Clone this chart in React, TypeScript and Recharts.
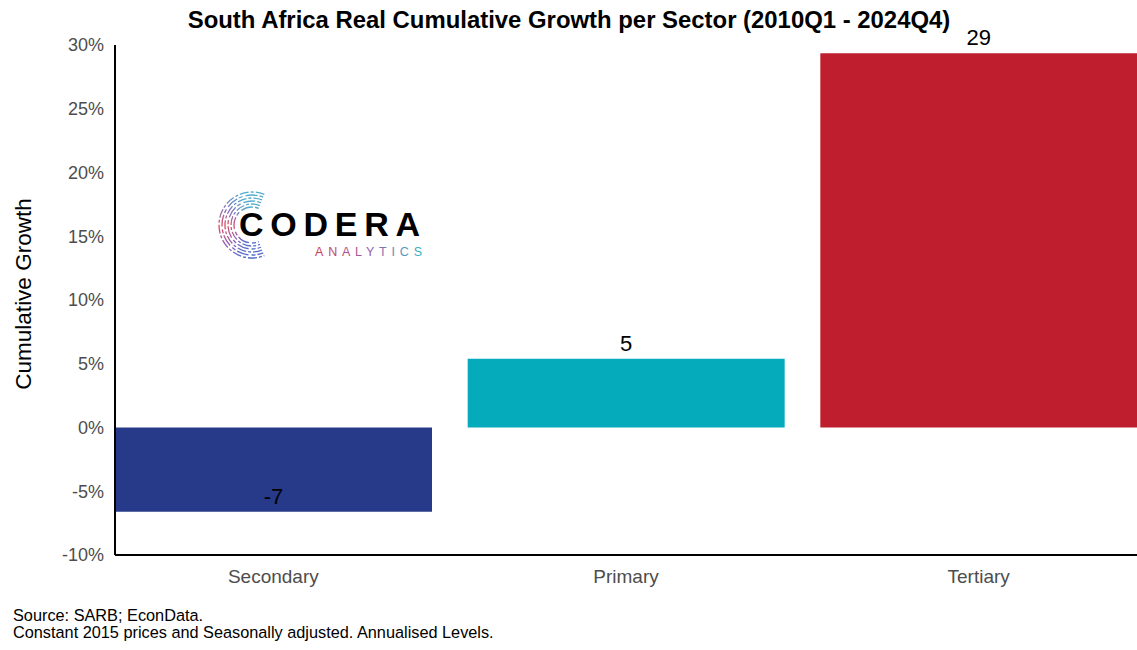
import { BarChart, Bar, XAxis, YAxis, Cell, LabelList } from 'recharts';

const sectors = ['Secondary', 'Primary', 'Tertiary'];
const growth = [-6.6, 5.4, 29.35];
const sectorColors = ['#273a8a', '#06abbb', '#be1e2e'];
const yTicks = [-10, -5, 0, 5, 10, 15, 20, 25, 30];
const footnotes = ['Source: SARB; EconData.', 'Constant 2015 prices and Seasonally adjusted. Annualised Levels.'];

const data = sectors.map((name, i) => ({ name, value: growth[i] }));

const W = 1137;
const H = 650;
const FONT = '"Liberation Sans", Arial, sans-serif';

// value label sits just above the end of the bar (inside the bar for negatives)
function ValueLabel(props: any) {
  const { x, y, width, height, value } = props;
  const end = value >= 0 ? Math.min(y, y + height) : Math.max(y, y + height);
  return (
    <text x={x + width / 2} y={end - 8} textAnchor="middle" fontSize={22} fill="#000" fontFamily={FONT}>
      {Math.round(value)}
    </text>
  );
}

function Logo() {
  const cx = 252;
  const cy = 225;
  const rings = [33, 30, 27, 24, 21, 18];
  const t = (68 * Math.PI) / 180;
  return (
    <g>
      <defs>
        <linearGradient id="ringGrad" x1="0" y1="0" x2="0" y2="1">
          <stop offset="0%" stopColor="#3fa6c8" />
          <stop offset="25%" stopColor="#7a5fb8" />
          <stop offset="50%" stopColor="#d8384e" />
          <stop offset="80%" stopColor="#8a4fa8" />
          <stop offset="100%" stopColor="#3c5cc4" />
        </linearGradient>
        <linearGradient id="wordGrad" x1="0" y1="0" x2="1" y2="0">
          <stop offset="0%" stopColor="#d23c55" />
          <stop offset="50%" stopColor="#9a5ca8" />
          <stop offset="100%" stopColor="#37b3c6" />
        </linearGradient>
      </defs>
      {rings.map((r, i) => (
        <path
          key={r}
          d={`M ${cx + r * Math.cos(-t)} ${cy + r * Math.sin(-t)} A ${r} ${r} 0 1 0 ${cx + r * Math.cos(t)} ${cy + r * Math.sin(t)}`}
          fill="none"
          stroke="url(#ringGrad)"
          strokeWidth={1.3}
          strokeDasharray={i % 2 === 0 ? '9 2 3 2' : '4 2 12 3'}
          opacity={0.9}
        />
      ))}
      <text x={239} y={236} fontFamily={FONT} fontWeight="bold" fontSize={34} fill="#000" textLength={181} lengthAdjust="spacing">
        CODERA
      </text>
      <text x={315} y={255.5} fontFamily={FONT} fontSize={12.5} fill="url(#wordGrad)" textLength={107} lengthAdjust="spacing">
        ANALYTICS
      </text>
    </g>
  );
}

export default function App() {
  return (
    <div style={{ position: 'absolute', left: 0, top: 0, width: W, height: H, background: '#fff' }}>
      <BarChart
        width={W}
        height={H}
        data={data}
        margin={{ top: 45, right: 0, bottom: 65, left: 0 }}
        barCategoryGap={18}
      >
        <XAxis
          dataKey="name"
          height={30}
          padding={{ left: -18, right: -18 }}
          axisLine={{ stroke: '#000', strokeWidth: 2 }}
          tickLine={false}
          tickSize={0}
          tickMargin={15}
          tick={{ fill: '#4d4d4d', fontSize: 19, fontFamily: FONT }}
        />
        <YAxis
          width={115}
          domain={[-10, 30]}
          ticks={yTicks}
          tickFormatter={(v: number) => `${v}%`}
          axisLine={{ stroke: '#000', strokeWidth: 2 }}
          tickLine={false}
          tickSize={0}
          tickMargin={11}
          tick={{ fill: '#4d4d4d', fontSize: 18, fontFamily: FONT }}
        />
        <Bar dataKey="value" isAnimationActive={false}>
          {data.map((d, i) => (
            <Cell key={d.name} fill={sectorColors[i]} />
          ))}
          <LabelList dataKey="value" content={ValueLabel} />
        </Bar>
      </BarChart>
      <svg width={W} height={H} style={{ position: 'absolute', left: 0, top: 0, pointerEvents: 'none' }}>
        <text x={569} y={28} textAnchor="middle" fontFamily={FONT} fontWeight="bold" fontSize={23.9} fill="#000">
          South Africa Real Cumulative Growth per Sector (2010Q1 - 2024Q4)
        </text>
        <text
          x={23}
          y={294}
          transform="rotate(-90 23 294)"
          textAnchor="middle"
          dominantBaseline="central"
          fontFamily={FONT}
          fontSize={22.5}
          fill="#000"
        >
          Cumulative Growth
        </text>
        <Logo />
        {footnotes.map((t, i) => (
          <text key={t} x={13} y={621 + i * 17} fontFamily={FONT} fontSize={16.3} fill="#000">
            {t}
          </text>
        ))}
      </svg>
    </div>
  );
}
